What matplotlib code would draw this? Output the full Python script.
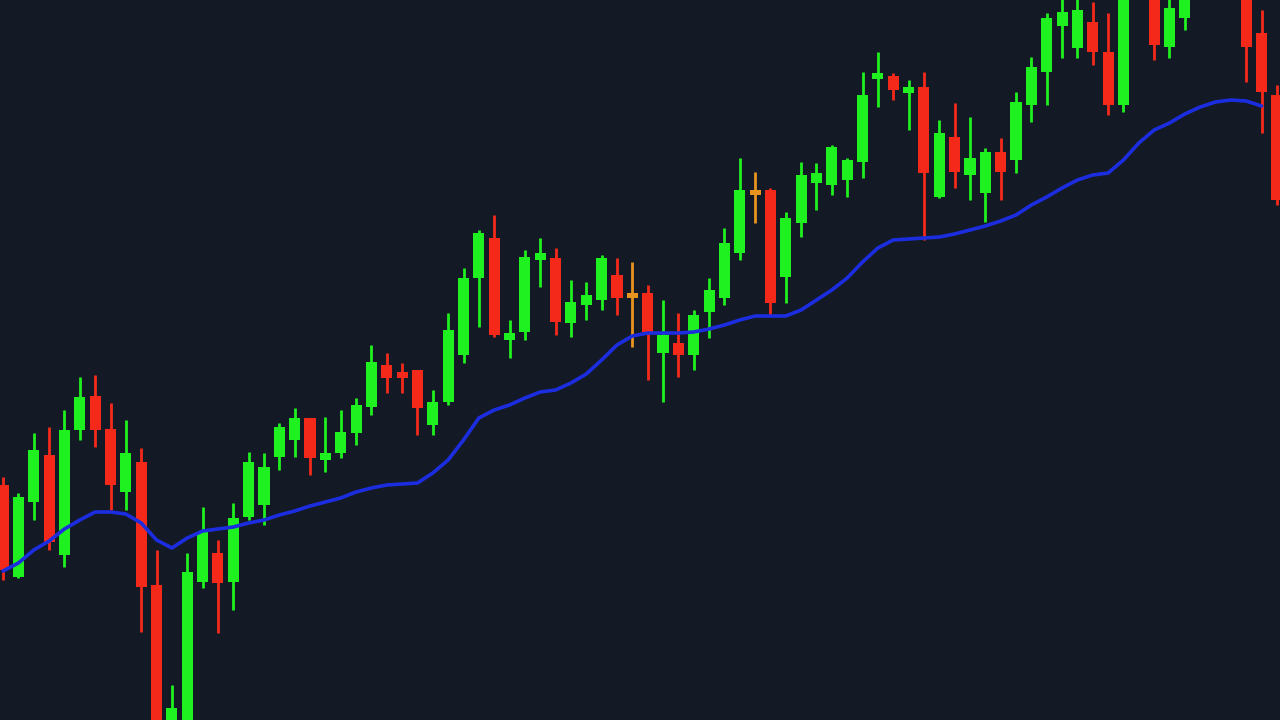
"""Candlestick chart with a moving average on a dark background."""

import matplotlib

matplotlib.use("Agg")
import matplotlib.pyplot as plt
import numpy as np

# OHLC values (price units, one entry per session)
opens = [235, 143, 218, 265, 165, 290, 324, 291, 228, 258,
         135, -20, -20, 138, 167, 138, 203, 215, 263, 280,
         302, 260, 267, 287, 313, 355, 348, 350, 295, 318,
         365, 442, 482, 380, 388, 460, 462, 397, 415, 420,
         445, 425, 427, 367, 377, 365, 408, 422, 467, 528,
         530, 443, 497, 537, 535, 540, 558, 641, 644, 627,
         633, 523, 583, 545, 527, 568, 560, 615, 648, 694,
         672, 698, 668, 615, 745, 740, 673, 702, 735, 750,
         760, 740, 687, 625]
highs = [243, 227, 287, 293, 310, 343, 345, 317, 300, 272,
         170, 35, 167, 213, 180, 217, 268, 267, 297, 312,
         302, 303, 310, 322, 375, 367, 357, 350, 330, 407,
         452, 490, 505, 400, 470, 482, 472, 440, 438, 465,
         462, 458, 435, 420, 407, 410, 442, 492, 562, 548,
         532, 508, 558, 557, 575, 562, 648, 668, 647, 640,
         648, 600, 617, 603, 572, 582, 628, 663, 707, 730,
         735, 718, 707, 750, 770, 750, 725, 740, 760, 770,
         780, 750, 710, 635]
lows = [140, 142, 200, 170, 153, 280, 273, 210, 210, 88,
        -40, -30, -30, 132, 87, 110, 200, 195, 250, 263,
        245, 248, 262, 275, 305, 327, 327, 285, 285, 315,
        357, 393, 383, 362, 380, 433, 385, 383, 400, 410,
        405, 373, 340, 318, 343, 350, 382, 415, 460, 497,
        405, 417, 483, 510, 525, 523, 542, 613, 620, 590,
        480, 522, 532, 520, 498, 520, 547, 598, 615, 662,
        662, 655, 605, 608, 735, 660, 662, 690, 725, 740,
        745, 638, 587, 515]
closes = [150, 223, 270, 178, 290, 323, 290, 235, 267, 133,
          -20, 12, 148, 188, 137, 202, 258, 253, 293, 302,
          262, 267, 288, 315, 358, 342, 342, 312, 318, 390,
          442, 487, 385, 387, 463, 467, 398, 418, 425, 462,
          422, 425, 388, 385, 365, 405, 430, 477, 530, 528,
          417, 502, 545, 547, 573, 560, 625, 647, 630, 633,
          547, 587, 548, 562, 568, 548, 618, 653, 702, 708,
          710, 668, 615, 740, 760, 675, 712, 730, 750, 760,
          750, 673, 628, 520]

# moving average
ma = [149, 157, 170, 179, 191, 200, 208, 208, 206, 197,
      180, 172, 182, 189, 191, 193, 197, 200, 205, 209,
      214, 218, 222, 228, 232, 235, 236, 237, 247, 260,
      280, 302, 310, 315, 322, 328, 330, 337, 346, 360,
      375, 384, 387, 387, 387, 388, 391, 395, 400, 404,
      404, 404, 410, 420, 430, 442, 458, 472, 480, 481,
      482, 483, 486, 490, 494, 499, 505, 515, 523, 532,
      540, 545, 547, 560, 577, 590, 597, 606, 613, 618,
      620, 619, 614]

BG = "#131a25"
UP = "#1ff01f"
DOWN = "#f5291a"
FLAT = "#e8941e"
MA_COLOR = "#1c2de0"

o = np.array(opens, dtype=float)
h = np.array(highs, dtype=float)
lo = np.array(lows, dtype=float)
c = np.array(closes, dtype=float)
x = np.arange(len(o))

colors = np.where(c > o, UP, np.where(c < o, DOWN, FLAT))
body_bottom = np.minimum(o, c)
body_height = np.maximum(np.abs(c - o), 5)
body_bottom = np.where(c == o, o - 2.5, body_bottom)

fig = plt.figure(figsize=(12.8, 7.2), dpi=100)
fig.patch.set_facecolor(BG)
ax = fig.add_axes([0, 0, 1, 1])
ax.set_facecolor(BG)

ax.vlines(x, lo, h, colors=colors, linewidth=2.0, zorder=2)
ax.bar(x, body_height, bottom=body_bottom, width=0.72, color=colors,
       linewidth=0, zorder=3)
ax.plot(np.arange(len(ma)), ma, color=MA_COLOR, linewidth=2.6,
        solid_capstyle="round", solid_joinstyle="round", zorder=4)

ax.set_xlim(-0.2, 83.2)
ax.set_ylim(0, 720)
ax.axis("off")

fig.savefig("out.png", dpi=100, facecolor=BG)
